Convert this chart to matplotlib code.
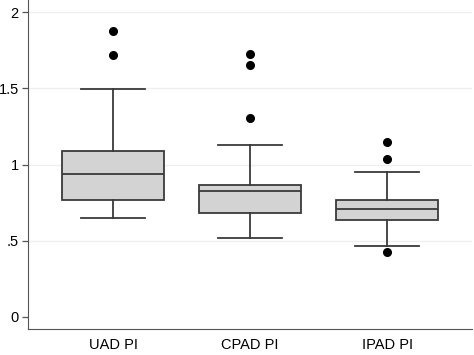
import numpy as np
import matplotlib
matplotlib.use("Agg")
import matplotlib.pyplot as plt

plt.rcParams['font.family'] = ['Liberation Sans', 'DejaVu Sans']

# box plot statistics
labels = ['UAD PI', 'CPAD PI', 'IPAD PI']
whislo = [0.650, 0.519, 0.467]
q1 = [0.769, 0.683, 0.635]
med = [0.936, 0.828, 0.706]
q3 = [1.091, 0.867, 0.765]
whishi = [1.496, 1.126, 0.953]
fliers = [[1.879, 1.719], [1.728, 1.654, 1.303], [1.148, 1.034, 0.423]]

yticks = [0, 0.5, 1, 1.5, 2]
ytick_labels = ['0', '.5', '1', '1.5', '2']

stats = []
for i in range(len(labels)):
    stats.append({'label': labels[i], 'whislo': whislo[i], 'q1': q1[i],
                  'med': med[i], 'q3': q3[i], 'whishi': whishi[i],
                  'fliers': fliers[i]})

fig = plt.figure(figsize=(4.74, 3.55), dpi=100)
ax = fig.add_axes([0.060, 0.073, 0.936, 0.927])

edge = '#3a3a3a'
ax.bxp(stats, positions=[1, 2, 3], widths=0.745, patch_artist=True,
       boxprops=dict(facecolor='#d3d3d3', edgecolor=edge, linewidth=1.3),
       medianprops=dict(color=edge, linewidth=1.3),
       whiskerprops=dict(color=edge, linewidth=1.3),
       capprops=dict(color=edge, linewidth=1.3),
       capwidths=0.47,
       flierprops=dict(marker='o', markerfacecolor='black', markeredgecolor='black',
                       markersize=5.5))

for y in yticks[1:]:
    ax.axhline(y, color='#eeeeee', linewidth=0.9, zorder=0)

ax.set_xlim(0.383, 3.62)
ax.set_ylim(-0.081, 2.081)
ax.set_yticks(yticks)
ax.set_yticklabels(ytick_labels, fontsize=10.5)
ax.set_xticks([1, 2, 3])
ax.set_xticklabels(labels, fontsize=10.5)
ax.tick_params(axis='x', length=0, pad=6.5)
ax.tick_params(axis='y', length=4, width=0.9, color='#555555', pad=3)
ax.spines['top'].set_visible(False)
ax.spines['right'].set_visible(False)
ax.spines['left'].set_color('#555555')
ax.spines['bottom'].set_color('#555555')

fig.savefig('out.png', dpi=100)
